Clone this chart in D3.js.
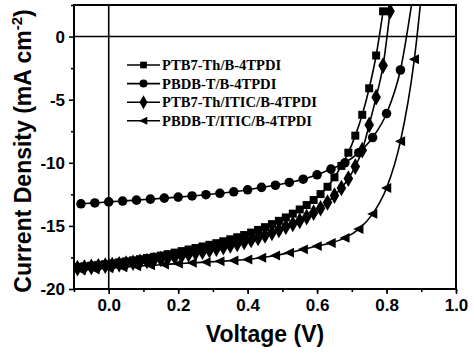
<!DOCTYPE html>
<html>
<head>
<meta charset="utf-8">
<script src="https://cdn.jsdelivr.net/npm/d3@7"></script>
<style>
  body { margin: 0; background: #fff; }
  svg { display: block; }
</style>
</head>
<body>
<div id="chart"></div>
<script>
// J-V curves, values (V in volts, J in mA cm-2)
const seriesNames = ["PTB7-Th/B-4TPDI", "PBDB-T/B-4TPDI", "PTB7-Th/ITIC/B-4TPDI", "PBDB-T/ITIC/B-4TPDI"];

const sqV = [-0.09,-0.07,-0.05,-0.03,-0.01,0.01,0.03,0.05,0.07,0.09,0.11,0.13,0.15,0.17,0.19,0.21,0.23,0.25,0.27,0.29,0.31,0.33,0.35,0.37,0.39,0.41,0.43,0.45,0.47,0.49,0.51,0.53,0.55,0.57,0.59,0.61,0.63,0.65,0.67,0.69,0.71,0.73,0.75,0.77,0.79];
const sqJ = [-18.25,-18.2,-18.15,-18.09,-18.03,-17.96,-17.89,-17.81,-17.73,-17.64,-17.55,-17.45,-17.35,-17.24,-17.12,-17.0,-16.87,-16.75,-16.63,-16.5,-16.37,-16.22,-16.06,-15.9,-15.72,-15.53,-15.32,-15.1,-14.86,-14.6,-14.33,-14.03,-13.7,-13.35,-12.95,-12.48,-11.9,-11.15,-10.25,-9.2,-7.85,-6.2,-4.1,-1.5,2.0];

const ciV = [-0.08,-0.04,0.0,0.04,0.08,0.12,0.16,0.20,0.24,0.28,0.32,0.36,0.40,0.44,0.48,0.52,0.56,0.60,0.64,0.68,0.72,0.76,0.80,0.84,0.88];
const ciJ = [-13.25,-13.18,-13.1,-13.03,-12.96,-12.88,-12.8,-12.72,-12.63,-12.53,-12.42,-12.3,-12.14,-11.95,-11.78,-11.56,-11.3,-10.95,-10.5,-10.0,-9.2,-8.0,-6.1,-2.65,4.0];

const diV = [-0.09,-0.07,-0.05,-0.03,-0.01,0.01,0.03,0.05,0.07,0.09,0.11,0.13,0.15,0.17,0.19,0.21,0.23,0.25,0.27,0.29,0.31,0.33,0.35,0.37,0.39,0.41,0.43,0.45,0.47,0.49,0.51,0.53,0.55,0.57,0.59,0.61,0.63,0.65,0.67,0.69,0.71,0.73,0.75,0.77,0.79,0.81];
const diJ = [-18.35,-18.3,-18.25,-18.2,-18.15,-18.1,-18.04,-17.98,-17.92,-17.85,-17.78,-17.7,-17.62,-17.54,-17.45,-17.35,-17.25,-17.15,-17.04,-16.92,-16.8,-16.68,-16.55,-16.42,-16.28,-16.12,-15.95,-15.76,-15.55,-15.32,-15.07,-14.85,-14.6,-14.3,-13.95,-13.6,-13.15,-12.6,-12.0,-11.25,-10.3,-9.0,-7.0,-4.8,-2.3,2.0];

const trV = [-0.08,-0.04,0.0,0.04,0.08,0.12,0.16,0.20,0.24,0.28,0.32,0.36,0.40,0.44,0.48,0.52,0.56,0.60,0.64,0.68,0.72,0.76,0.80,0.84,0.88,0.92];
const trJ = [-18.5,-18.43,-18.35,-18.28,-18.2,-18.13,-18.06,-17.99,-17.93,-17.87,-17.81,-17.74,-17.66,-17.52,-17.35,-17.12,-16.86,-16.6,-16.35,-15.95,-15.25,-14.05,-12.0,-8.3,-1.8,9.0];

const xTicks = [0.0, 0.2, 0.4, 0.6, 0.8, 1.0];
const yTicks = [0, -5, -10, -15, -20];

const W = 474, H = 353;
const margin = {top: 5, right: 18, bottom: 64, left: 74};

const svg = d3.select("#chart").append("svg")
    .attr("width", W)
    .attr("height", H);

const x = d3.scaleLinear().domain([-0.1, 1.0]).range([margin.left, W - margin.right]);
const y = d3.scaleLinear().domain([-20, 2.5]).range([H - margin.bottom, margin.top]);

svg.append("clipPath").attr("id", "plotclip")
  .append("rect")
    .attr("x", x(-0.1)).attr("y", y(2.5))
    .attr("width", x(1.0) - x(-0.1)).attr("height", y(-20) - y(2.5));

// zero lines
svg.append("line")
    .attr("x1", x(-0.1)).attr("x2", x(1.0))
    .attr("y1", y(0)).attr("y2", y(0))
    .attr("stroke", "#000").attr("stroke-width", 1.6);
svg.append("line")
    .attr("x1", x(0)).attr("x2", x(0))
    .attr("y1", y(2.5)).attr("y2", y(-20))
    .attr("stroke", "#000").attr("stroke-width", 1.6);

// axes (minor + major ticks)
const tickFont = "bold 17px Arial, 'Liberation Sans', sans-serif";

const xMinor = d3.axisBottom(x).tickValues(d3.range(-0.1, 1.001, 0.1)).tickSize(3).tickFormat("");
svg.append("g").attr("transform", "translate(0," + y(-20) + ")").call(xMinor)
    .call(g => g.select(".domain").remove());
const xAxis = d3.axisBottom(x).tickValues(xTicks).tickSize(5).tickPadding(5).tickFormat(d3.format(".1f"));
svg.append("g").attr("class", "xaxis").attr("transform", "translate(0," + y(-20) + ")").call(xAxis)
    .call(g => g.select(".domain").remove());

const yMinor = d3.axisLeft(y).tickValues([2.5, -2.5, -7.5, -12.5, -17.5]).tickSize(3).tickFormat("");
svg.append("g").attr("transform", "translate(" + x(-0.1) + ",0)").call(yMinor)
    .call(g => g.select(".domain").remove());
const yAxis = d3.axisLeft(y).tickValues(yTicks).tickSize(5).tickPadding(4).tickFormat(d => d);
svg.append("g").attr("class", "yaxis").attr("transform", "translate(" + x(-0.1) + ",0)").call(yAxis)
    .call(g => g.select(".domain").remove());

svg.selectAll(".tick line").attr("stroke", "#000").attr("stroke-width", 1.6);
svg.selectAll(".tick text").style("font", tickFont).attr("fill", "#000");

// frame
svg.append("rect")
    .attr("x", x(-0.1)).attr("y", y(2.5))
    .attr("width", x(1.0) - x(-0.1)).attr("height", y(-20) - y(2.5))
    .attr("fill", "none").attr("stroke", "#000").attr("stroke-width", 2);

// series
const sym = [d3.symbolSquare, d3.symbolCircle, d3.symbolDiamond, null];
const symSize = [64, 72, 80, 0];
const allV = [sqV, ciV, diV, trV];
const allJ = [sqJ, ciJ, diJ, trJ];

const line = d3.line()
    .x(d => x(d.v))
    .y(d => y(d.j))
    .curve(d3.curveMonotoneX);

// left-pointing triangle
function triPath(s) {
  return "M" + (-s) + ",0L" + (s * 0.85) + "," + (-s * 0.9) + "L" + (s * 0.85) + "," + (s * 0.9) + "Z";
}

const plot = svg.append("g").attr("clip-path", "url(#plotclip)");

for (let i = 0; i < 4; i++) {
  let pts = allV[i].map((v, k) => ({v: v, j: allJ[i][k]}));
  plot.append("path")
      .attr("d", line(pts))
      .attr("fill", "none")
      .attr("stroke", "#000")
      .attr("stroke-width", 1.6);
  plot.selectAll(".m" + i).data(pts).enter().append("path")
      .attr("class", "m" + i)
      .attr("transform", d => "translate(" + x(d.v) + "," + y(d.j) + ")")
      .attr("d", i == 3 ? triPath(5.5) : d3.symbol().type(sym[i]).size(symSize[i])())
      .attr("fill", "#000");
}

// legend
const legend = svg.append("g");
const legX = 127, legY = 65, legStep = 18.6;
seriesNames.forEach((name, i) => {
  let gy = legY + i * legStep;
  legend.append("line")
      .attr("x1", legX).attr("x2", legX + 33)
      .attr("y1", gy).attr("y2", gy)
      .attr("stroke", "#000").attr("stroke-width", 1.6);
  legend.append("path")
      .attr("transform", "translate(" + (legX + 16.5) + "," + gy + ")")
      .attr("d", i == 3 ? triPath(4.5) : d3.symbol().type(sym[i]).size(symSize[i] * 0.7)())
      .attr("fill", "#000");
  legend.append("text")
      .attr("x", legX + 35).attr("y", gy + 5)
      .style("font", "bold 14.6px 'Liberation Serif', 'Times New Roman', serif")
      .text(name);
});

// axis titles
const titleFont = "bold 23px Arial, 'Liberation Sans', sans-serif";
svg.append("text")
    .attr("x", (x(-0.1) + x(1.0)) / 2)
    .attr("y", 342)
    .attr("text-anchor", "middle")
    .style("font", titleFont)
    .text("Voltage (V)");

const yt = svg.append("text")
    .attr("transform", "translate(31," + ((y(2.5) + y(-20)) / 2 + 4) + ") rotate(-90)")
    .attr("text-anchor", "middle")
    .style("font", titleFont);
yt.append("tspan").text("Current Density (mA cm");
yt.append("tspan").attr("dy", -9).style("font-size", "15px").text("-2");
yt.append("tspan").attr("dy", 9).text(")");
</script>
</body>
</html>
